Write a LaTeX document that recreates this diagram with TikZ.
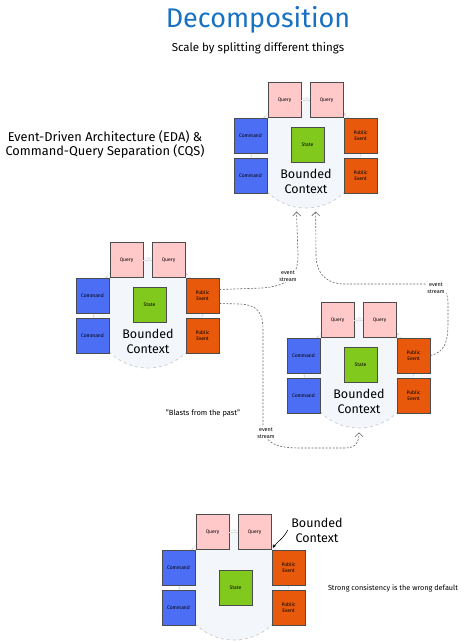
\documentclass[tikz,border=0pt]{standalone}
\usepackage{fontspec}
\setmainfont{Fira Sans}
\usetikzlibrary{arrows.meta}
\definecolor{querypink}{HTML}{FFC9C9}
\definecolor{cmdblue}{HTML}{4C6EF5}
\definecolor{stategreen}{HTML}{82C91E}
\definecolor{eventorange}{HTML}{E8590C}
\definecolor{titleblue}{HTML}{1971C2}
\definecolor{bcfill}{HTML}{F3F7FB}
\tikzset{every picture/.style={line width=0.75pt}}
\tikzset{
  box/.style={draw=black!70, rectangle, minimum width=33pt, minimum height=35pt,
    inner sep=0pt, align=center, font=\fontsize{5}{5.5}\selectfont},
  query/.style={box, fill=querypink},
  command/.style={box, fill=cmdblue},
  state/.style={box, fill=stategreen},
  pubevent/.style={box, fill=eventorange},
  bcircle/.style={circle, draw=black!20, dashed, fill=bcfill, minimum size=110pt, inner sep=0pt},
  stream/.style={draw=black!60, dash pattern=on 2pt off 1.5pt, line width=0.6pt,
    -{Straight Barb[length=4pt]}, shorten >=4pt},
  streamlabel/.style={fill=white, inner sep=1pt, align=center, font=\fontsize{5.5}{6.5}\selectfont},
  bclabel/.style={align=center, font=\fontsize{12.5}{15}\selectfont},
  pics/context/.style 2 args={code={
    \node[bcircle] (-bc) at (72,71) {};
    \node[query] (-q1) at (50.5,18) {Query};
    \node[query] (-q2) at (92.5,18) {Query};
    \draw[black!12] (-q1) -- (-q2);
    \node[command] (-c1) at (16.5,53.5) {Command};
    \node[command] (-c2) at (16.5,93.5) {Command};
    \node[state] (-st) at (73.5,#1) {State};
    \node[pubevent] (-p1) at (126.5,53.5) {Public\\Event};
    \node[pubevent] (-p2) at (126.5,93.5) {Public\\Event};
    \node[bclabel] (-txt) at (72,99) {#2};
  }}
}

\begin{document}
\begin{tikzpicture}[x=1pt, y=-1pt]
    	\useasboundingbox (0,0) rectangle (474,643);
    	% headings
    	\node[text=titleblue, font=\fontsize{27}{30}\selectfont] (title) at (258,20) {Decomposition};
    	\node[font=\fontsize{11.5}{13}\selectfont] (subtitle) at (258,48) {Scale by splitting different things};
    	\node[align=center, font=\fontsize{12.8}{14}\selectfont] (eda) at (105,144) {Event-Driven Architecture (EDA) \&\\Command-Query Separation (CQS)};
    	% bounded contexts
    	\pic (T) at (234,82) {context={62.5}{Bounded\\Context}};
    	\pic (L) at (76,242) {context={62.5}{Bounded\\Context}};
    	\pic (R) at (287,302) {context={62.5}{Bounded\\Context}};
    	\pic (B) at (162,514) {context={74}{}};
    	% event streams
    	\draw[stream] ([yshift=6pt]L-p1.east) -- (262,288) .. controls (290,286) and (298,275) .. (298,255) -- (T-bc.-100);
    	\node[streamlabel] (s1) at (288,276) {event\\stream};
    	\draw[stream] (R-p1.east) .. controls (445,352) and (448,342) .. (448,322) -- (448,302) .. controls (448,290) and (440,284) .. (425,284) -- (345,284) .. controls (325,284) and (316,272) .. (316,255) -- (T-bc.-80);
    	\node[streamlabel] (s2) at (436,288) {event\\stream};
    	\draw[stream] ([yshift=-8pt]L-p1.east) -- (240,304) .. controls (258,305) and (263,313) .. (263,330) -- (263,425) .. controls (263,445) and (280,448) .. (300,448) -- (345,448) .. controls (356,448) and (359,442) .. (R-bc.south);
    	\node[streamlabel] (s3) at (266,433) {event\\stream};
    	% notes
    	\node[font=\fontsize{7.5}{9}\selectfont] (past) at (203,413) {"Blasts from the past"};
    	\node[bclabel] (bcnote) at (317,530) {Bounded\\Context};
    	\draw[-{Stealth[length=4pt]}, line width=0.6pt, shorten >=2pt] (bcnote.west) .. controls (284,538) and (277,542) .. (B-p1.north west);
    	\node[font=\fontsize{7.3}{8}\selectfont] (strong) at (393,588) {Strong consistency is the wrong default};
    \end{tikzpicture}
\end{document}
